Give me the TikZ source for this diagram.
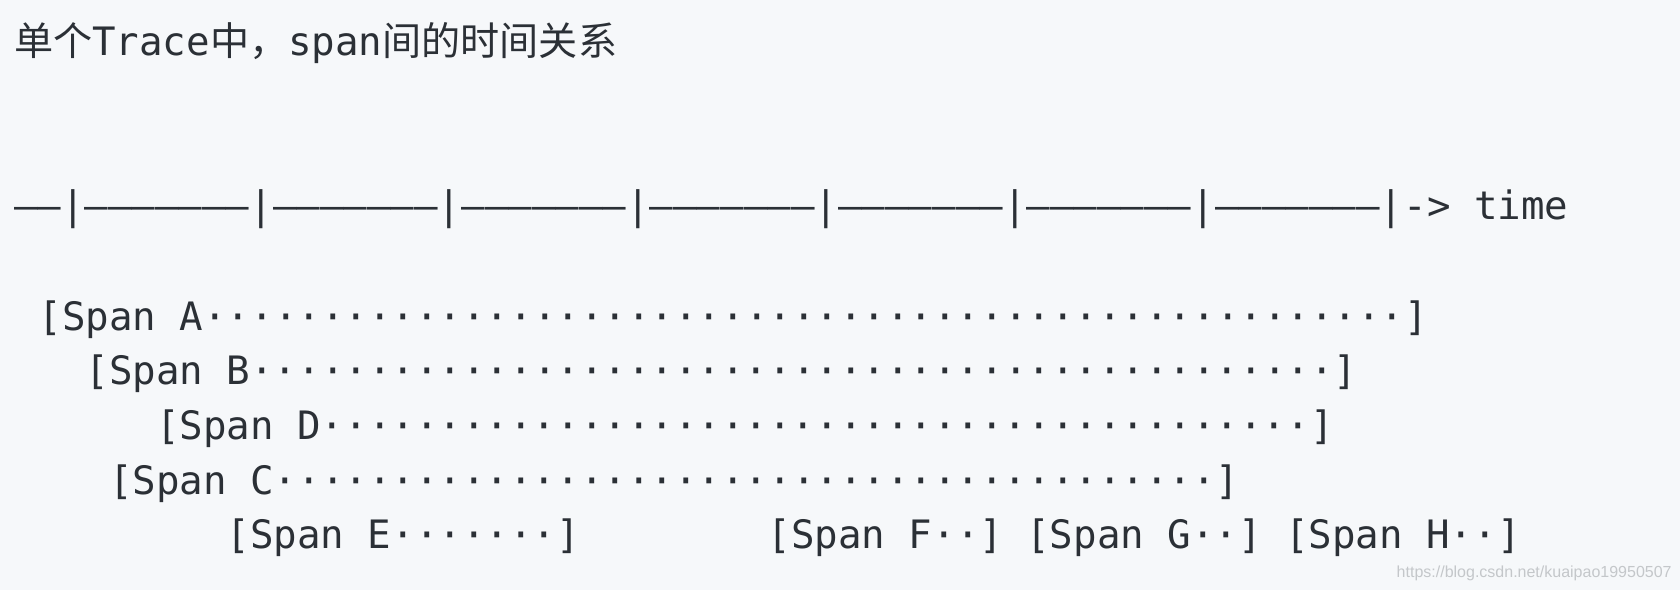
\documentclass[tikz,border=0pt]{standalone}
\usepackage{fontspec}
\setmainfont{DejaVu Sans Mono}
\newfontfamily\cjk{Noto Sans CJK SC}
\newfontfamily\wmfont{Liberation Sans}
\definecolor{bg}{HTML}{F6F8FA}
\definecolor{ink}{HTML}{2B3036}
\definecolor{wmgray}{HTML}{C4C7CA}
\begin{document}
\begin{tikzpicture}[x=0.5pt,y=-0.5pt,
  code/.style={anchor=base west, inner sep=0pt, outer sep=0pt, text=ink,
    font=\fontsize{19.56}{23}\selectfont}]
\fill[bg] (0,0) rectangle (1680,590);
\useasboundingbox (0,0) rectangle (1680,590);
\def\cw{23.52}
\def\xo{14}
\def\xs{15}
% title
\node[code] (title) at (\xo,55) {{\cjk 单个}Trace{\cjk 中，}span{\cjk 间的时间关系}};
% timeline
\node[code] (axis) at (\xo,219) {——|———————|———————|———————|———————|———————|———————|———————|-> time};
% spans
\node[code] (spanA) at ({\xs+\cw*1},330) {[Span A···················································]};
\node[code] (spanB) at ({\xs+\cw*3},384.7) {[Span B··············································]};
\node[code] (spanD) at ({\xs+\cw*6},439.4) {[Span D··········································]};
\node[code] (spanC) at ({\xs+\cw*4},494.1) {[Span C········································]};
\node[code] (spanE) at ({\xs+\cw*9},548.8) {[Span E·······]};
\node[code] (spanF) at ({\xs+\cw*32},548.8) {[Span F··]};
\node[code] (spanG) at ({\xs+\cw*43},548.8) {[Span G··]};
\node[code] (spanH) at ({\xs+\cw*54},548.8) {[Span H··]};
% watermark
\node[anchor=base east, inner sep=0pt, text=wmgray, font=\wmfont\fontsize{8}{9}\selectfont] (wm) at (1672,577) {https://blog.csdn.net/kuaipao19950507};
\end{tikzpicture}
\end{document}
